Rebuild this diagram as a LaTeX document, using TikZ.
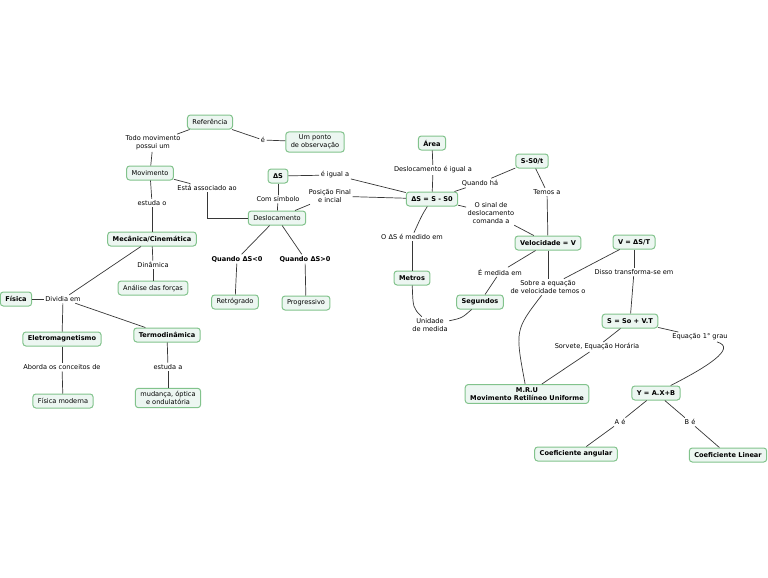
\documentclass[tikz,border=0pt]{standalone}
\usepackage{fontspec}
\setmainfont{DejaVu Sans}
\usetikzlibrary{positioning}
\definecolor{cmapgreen}{RGB}{130,195,140}
\definecolor{cmapfill}{RGB}{236,246,241}
\definecolor{linkgray}{RGB}{55,55,55}

\tikzset{
  concept/.style={draw=cmapgreen, fill=cmapfill, rounded corners=3pt, line width=1pt,
    inner xsep=5pt, inner ysep=3pt, minimum height=14pt, align=center,
    font=\fontsize{6.6}{8}\selectfont},
  keyconcept/.style={concept, font=\fontsize{6.6}{8}\selectfont\bfseries},
  linkword/.style={inner sep=1.5pt, align=center, font=\fontsize{6.6}{8}\selectfont},
  boldlink/.style={linkword, font=\fontsize{6.6}{8}\selectfont\bfseries},
  link/.style={draw=linkgray, line width=0.7pt}
}

\begin{document}
\begin{tikzpicture}[x=1pt, y=-1pt]
  \useasboundingbox (0,0) rectangle (768,578);

  % concepts, left part
  \node[concept] (ref) at (210,122) {Referência};
  \node[concept] (ponto) at (315,142) {Um ponto\\de observação};
  \node[concept] (mov) at (150,173) {Movimento};
  \node[keyconcept] (mec) at (152,239) {Mecânica/Cinemática};
  \node[concept] (forcas) at (153,288) {Análise das forças};
  \node[keyconcept] (fisica) at (16,299) {Física};
  \node[keyconcept] (eletro) at (62,339) {Eletromagnetismo};
  \node[keyconcept] (termo) at (167,335) {Termodinâmica};
  \node[concept] (fismod) at (63,401) {Física moderna};
  \node[concept] (mudanca) at (168,398) {mudança, óptica\\e ondulatória};

  % concepts, middle part
  \node[keyconcept] (ds) at (278,176) {ΔS};
  \node[concept] (desl) at (277,218) {Deslocamento};
  \node[concept] (retro) at (235,302) {Retrógrado};
  \node[concept] (prog) at (306,303) {Progressivo};
  \node[keyconcept] (area) at (432,143) {Área};
  \node[keyconcept] (dss0) at (432,199) {ΔS = S - S0};
  \node[keyconcept] (metros) at (412,278) {Metros};
  \node[keyconcept] (seg) at (480,302) {Segundos};

  % concepts, right part
  \node[keyconcept] (ss0t) at (532,161) {S-S0/t};
  \node[keyconcept] (vel) at (548,243) {Velocidade = V};
  \node[keyconcept] (vdst) at (634,242) {V = ΔS/T};
  \node[keyconcept] (ssovt) at (630,321) {S = So + V.T};
  \node[keyconcept] (mru) at (527,394) {M.R.U\\Movimento Retilíneo Uniforme};
  \node[keyconcept] (yaxb) at (656,393) {Y = A.X+B};
  \node[keyconcept] (coefang) at (576,454) {Coeficiente angular};
  \node[keyconcept] (coeflin) at (728,455) {Coeficiente Linear};

  % linking words
  \node[linkword] (ltodo) at (153,143) {Todo movimento\\possui um};
  \node[linkword] (le) at (263,140) {é};
  \node[linkword] (lassoc) at (207,188) {Está associado ao};
  \node[linkword] (lestuda) at (152,203) {estuda o};
  \node[linkword] (ldinam) at (153,265) {Dinâmica};
  \node[linkword] (ldivid) at (63,299) {Dividia em};
  \node[linkword] (laborda) at (62,367) {Aborda os conceitos de};
  \node[linkword] (lestudaa) at (168,367) {estuda a};
  \node[linkword] (lsimb) at (278,199) {Com símbolo};
  \node[linkword] (ligual) at (335,175) {é igual a};
  \node[linkword] (lposic) at (330,196) {Posição Final\\e incial};
  \node[boldlink] (lmenor) at (237,259) {Quando ΔS<0};
  \node[boldlink] (lmaior) at (305,259) {Quando ΔS>0};
  \node[linkword] (ldeslig) at (433,170) {Deslocamento é igual a};
  \node[linkword] (lquando) at (480,183) {Quando há};
  \node[linkword] (lsinal) at (491,213) {O sinal de\\deslocamento\\comanda a};
  \node[linkword] (lmedido) at (412,237) {O ΔS é medido em};
  \node[linkword] (ltemos) at (547,192) {Temos a};
  \node[linkword] (lmedida) at (500,272) {É medida em};
  \node[linkword] (lunid) at (430,325) {Unidade\\de medida};
  \node[linkword] (lsobre) at (548,287) {Sobre a equação\\de velocidade temos o};
  \node[linkword] (ldisso) at (634,272) {Disso transforma-se em};
  \node[linkword] (lsorv) at (597,347) {Sorvete, Equação Horária};
  \node[linkword] (lgrau) at (700,337) {Equação 1° grau};
  \node[linkword] (la) at (620,422) {A é};
  \node[linkword] (lb) at (690,422) {B é};

  % connectors
  \draw[link] (ref) -- (ltodo);
  \draw[link] (ltodo) -- (mov);
  \draw[link] (ref) -- (le);
  \draw[link] (le) -- (ponto);
  \draw[link] (mov) -- (lestuda);
  \draw[link] (lestuda) -- (mec);
  \draw[link] (mov) -- (lassoc);
  \draw[link] (lassoc) |- (desl);
  \draw[link] (mec) -- (ldinam);
  \draw[link] (ldinam) -- (forcas);
  \draw[link] (fisica) -- (ldivid);
  \draw[link] (ldivid) -- (mec);
  \draw[link] (ldivid) -- (eletro);
  \draw[link] (ldivid) -- (termo);
  \draw[link] (eletro) -- (laborda);
  \draw[link] (laborda) -- (fismod);
  \draw[link] (termo) -- (lestudaa);
  \draw[link] (lestudaa) -- (mudanca);

  \draw[link] (ds) -- (lsimb);
  \draw[link] (lsimb) -- (desl);
  \draw[link] (ds) -- (ligual);
  \draw[link] (ligual) -- (dss0);
  \draw[link] (desl) -- (lposic);
  \draw[link] (lposic) -- (dss0);
  \draw[link] (desl) -- (lmenor);
  \draw[link] (lmenor) -- (retro);
  \draw[link] (desl) -- (lmaior);
  \draw[link] (lmaior) -- (prog);
  \draw[link] (area) -- (ldeslig);
  \draw[link] (ldeslig) -- (dss0);
  \draw[link] (dss0) .. controls (422,215) .. (lmedido);
  \draw[link] (lmedido) -- (metros);
  \draw[link] (metros) .. controls (413,308) .. (lunid);
  \draw[link] (lunid) .. controls (462,318) .. (seg);

  \draw[link] (dss0) -- (lquando);
  \draw[link] (lquando) -- (ss0t);
  \draw[link] (dss0) -- (lsinal);
  \draw[link] (lsinal) -- (vel);
  \draw[link] (ss0t) -- (ltemos);
  \draw[link] (ltemos) -- (vel);
  \draw[link] (vel) -- (lmedida);
  \draw[link] (lmedida) -- (seg);
  \draw[link] (vel) -- (lsobre);
  \draw[link] (lsobre) -- (vdst);
  \draw[link] (lsobre) .. controls (515,330) .. (mru);
  \draw[link] (vdst) -- (ldisso);
  \draw[link] (ldisso) -- (ssovt);
  \draw[link] (ssovt) -- (lsorv);
  \draw[link] (lsorv) -- (mru);
  \draw[link] (ssovt) -- (lgrau);
  \draw[link] (lgrau) .. controls (738,348) and (705,368) .. (yaxb);
  \draw[link] (yaxb) -- (la);
  \draw[link] (la) -- (coefang);
  \draw[link] (yaxb) -- (lb);
  \draw[link] (lb) -- (coeflin);
\end{tikzpicture}
\end{document}
